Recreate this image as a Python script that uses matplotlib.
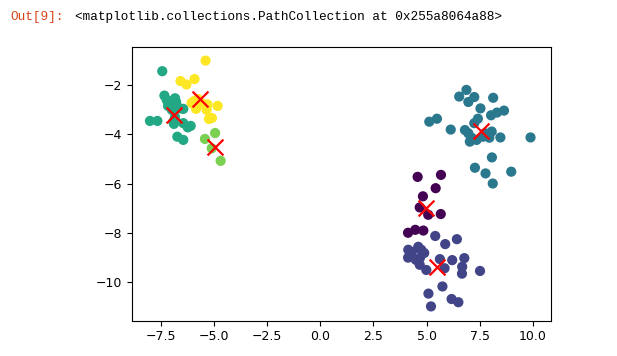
import numpy as np
import matplotlib
matplotlib.use("Agg")
import matplotlib.pyplot as plt

# cluster points (label = cluster id for viridis colouring)
x0 = [4.58, 5.68, 5.43, 4.83, 4.68, 5.08, 5.67, 4.13, 4.47, 4.85]
y0 = [-5.73, -5.65, -6.19, -6.52, -6.97, -7.27, -7.24, -8.00, -7.88, -7.91]

x1 = [5.41, 6.43, 5.88, 4.14, 4.61, 4.75, 4.89, 4.13, 4.50, 4.68, 4.99, 5.63, 6.21,
      6.78, 5.85, 6.68, 6.67, 7.52, 5.75, 5.09, 6.18, 6.50, 5.21, 4.31, 4.69]
y1 = [-8.13, -8.26, -8.46, -8.69, -8.57, -8.69, -8.82, -9.01, -9.10, -9.30, -9.51, -9.07, -9.11,
      -9.03, -9.44, -9.38, -9.66, -9.55, -10.18, -10.47, -10.69, -10.82, -10.99, -8.78, -9.02]

x2 = [6.88, 6.54, 7.25, 6.97, 8.14, 7.54, 8.65, 8.32, 8.04, 5.13, 5.49, 7.42, 7.25, 6.14, 6.81,
      6.97, 8.07, 7.75, 8.48, 9.90, 7.04, 7.36, 7.96, 7.67, 7.14, 8.08, 7.28, 7.78, 8.99, 8.12]
y2 = [-2.20, -2.47, -2.49, -2.69, -2.52, -2.95, -3.04, -3.12, -3.23, -3.49, -3.37, -3.37, -3.55,
      -3.81, -3.83, -3.96, -3.89, -3.96, -4.13, -4.13, -4.30, -4.23, -4.14, -4.10, -4.15, -4.94,
      -5.36, -5.59, -5.52, -6.00]

x3 = [-7.45, -7.35, -7.24, -7.08, -6.85, -6.80, -6.90, -6.77, -7.00, -6.61, -6.46, -8.03,
      -7.68, -6.93, -6.90, -6.46, -6.25, -6.11, -6.74, -6.46, -7.18, -6.85]
y3 = [-1.44, -2.43, -2.61, -2.74, -2.54, -2.68, -2.81, -2.88, -3.01, -2.95, -2.97, -3.46,
      -3.46, -3.49, -3.58, -3.55, -3.72, -3.66, -4.10, -4.23, -2.85, -3.30]

x4 = [-4.96, -5.44, -5.12, -4.70]
y4 = [-3.95, -4.19, -4.57, -5.08]

x5 = [-5.41, -6.59, -6.31, -5.93, -6.07, -5.95, -5.86, -5.32, -5.36, -4.84, -5.25, -5.11, -5.77, -5.53]
y5 = [-1.01, -1.84, -1.98, -1.76, -2.73, -2.65, -2.97, -2.79, -3.01, -2.85, -3.38, -3.34, -2.57, -2.77]

center_x = [4.97, 5.48, 7.55, -6.90, -4.96, -5.65]
center_y = [-6.98, -9.37, -3.85, -3.20, -4.52, -2.57]

xs = [x0, x1, x2, x3, x4, x5]
ys = [y0, y1, y2, y3, y4, y5]
X = np.concatenate([np.array(v) for v in xs])
Y = np.concatenate([np.array(v) for v in ys])
labels = np.concatenate([np.full(len(v), i) for i, v in enumerate(xs)])

fig = plt.figure(figsize=(6.17, 3.56), dpi=100)
ax = fig.add_axes([131.7 / 617, 35.3 / 356, 419 / 617, 273.4 / 356])

ax.scatter(X, Y, c=labels, s=40, cmap='viridis', vmin=0, vmax=5)
ax.scatter(center_x, center_y, c='red', s=130, marker='x', linewidths=1.6)

ax.set_xlim(-8.89, 10.85)
ax.set_ylim(-11.57, -0.47)
ax.set_xticks([-7.5, -5.0, -2.5, 0.0, 2.5, 5.0, 7.5, 10.0])
ax.set_yticks([-10, -8, -6, -4, -2])
ax.tick_params(labelsize=9)

# notebook output prompt
fig.text(10 / 617, 1 - 17 / 356, "Out[9]:", color='#d84315', fontsize=9.2,
         family='Liberation Mono', va='center', ha='left')
fig.text(75 / 617, 1 - 17 / 356, "<matplotlib.collections.PathCollection at 0x255a8064a88>",
         color='black', fontsize=9.2, family='Liberation Mono', va='center', ha='left')

fig.savefig('out.png', dpi=100)
